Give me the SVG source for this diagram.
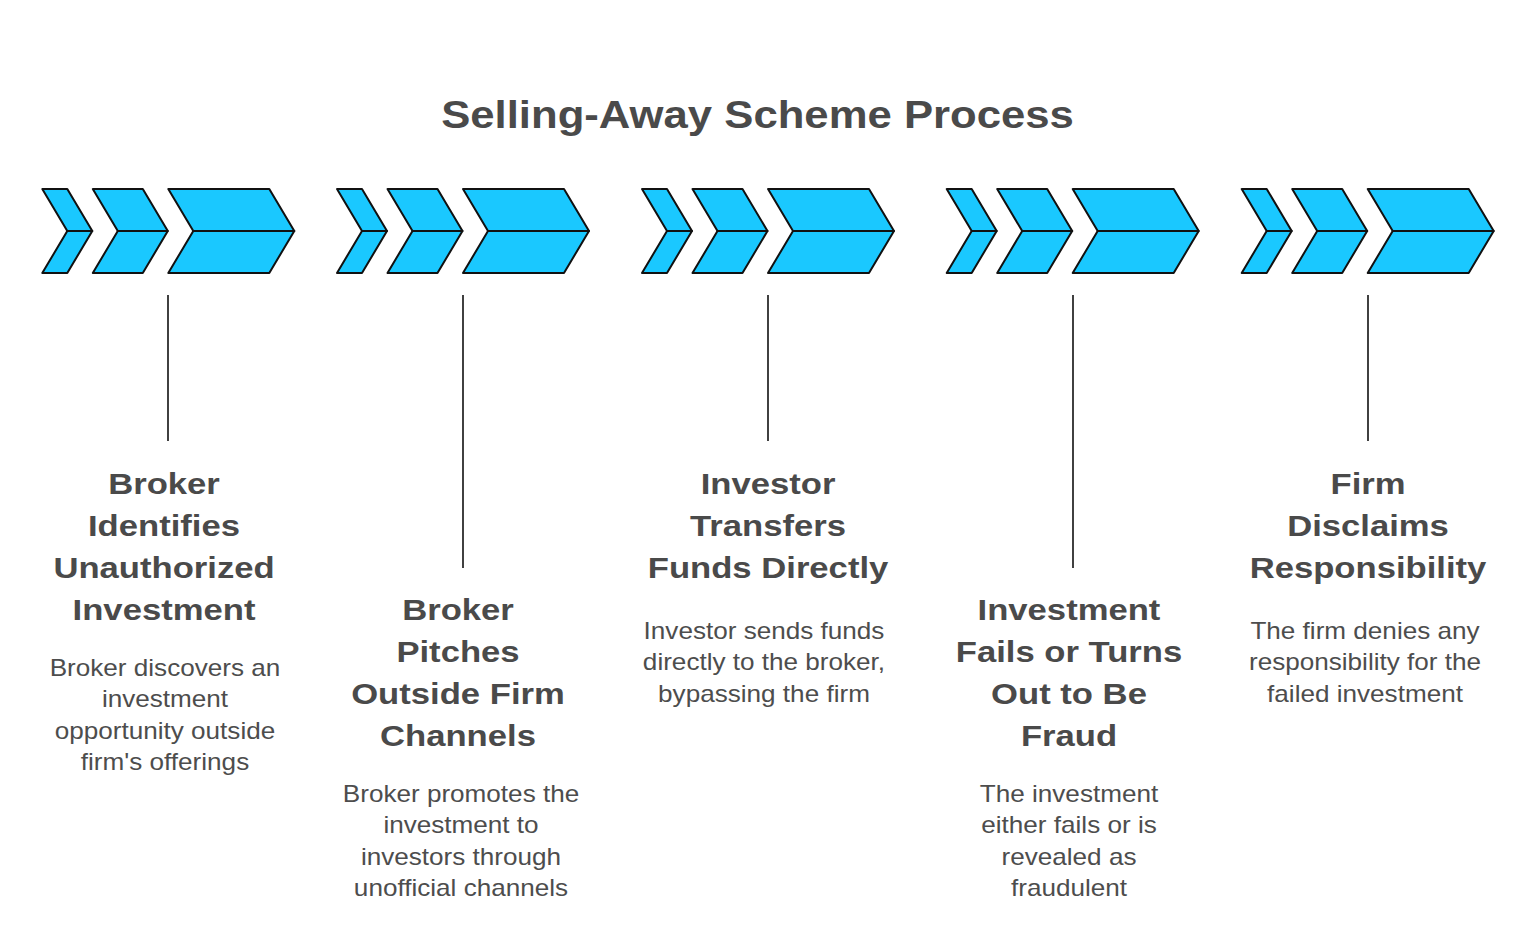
<svg xmlns="http://www.w3.org/2000/svg" xmlns:xlink="http://www.w3.org/1999/xlink" width="1536" height="926" viewBox="0 0 1536 926">
<style>
.ch{fill:#1AC8FF;stroke:#111;stroke-width:2;stroke-linejoin:round}
.t{font-family:"Liberation Sans",Arial,sans-serif;font-weight:bold;font-size:30px;fill:#4a4a4a;text-anchor:middle}
.d{font-family:"Liberation Sans",Arial,sans-serif;font-size:23px;fill:#4d4d4d;text-anchor:middle}
.h{font-family:"Liberation Sans",Arial,sans-serif;font-weight:bold;font-size:39px;fill:#4a4a4a;text-anchor:middle}
.ln{stroke:#111;stroke-width:1.6;fill:none}
</style>
<defs>
<g id="chev">
<polygon class="ch" points="0,0 25,0 50,42 25,42"/>
<polygon class="ch" points="25,42 50,42 25,84 0,84"/>
<polygon class="ch" points="50.5,0 100.5,0 125.5,42 75.5,42"/>
<polygon class="ch" points="75.5,42 125.5,42 100.5,84 50.5,84"/>
<polygon class="ch" points="126,0 227,0 252,42 151,42"/>
<polygon class="ch" points="151,42 252,42 227,84 126,84"/>
</g>
</defs>
<rect width="1536" height="926" fill="#fff"/>
<g id="title" transform="matrix(1.12 0 0 1 -90.9 0)">
<text class="h" x="757.5" y="128">Selling-Away Scheme Process</text>
</g>
<g id="connectors">
<line class="ln" x1="168" y1="295" x2="168" y2="441"/>
<line class="ln" x1="463" y1="295" x2="463" y2="568"/>
<line class="ln" x1="768" y1="295" x2="768" y2="441"/>
<line class="ln" x1="1073" y1="295" x2="1073" y2="568"/>
<line class="ln" x1="1368" y1="295" x2="1368" y2="441"/>
</g>
<g id="node1">
<use xlink:href="#chev" href="#chev" transform="translate(42.3,189)"/>
<g transform="matrix(1.155 0 0 1 -25.4 0)">
<text class="t" x="164" y="494"><tspan x="164">Broker</tspan><tspan x="164" dy="42">Identifies</tspan><tspan x="164" dy="42">Unauthorized</tspan><tspan x="164" dy="42">Investment</tspan></text>
</g>
<g transform="matrix(1.135 0 0 1 -22.275 0)">
<text class="d" x="165" y="676"><tspan x="165">Broker discovers an</tspan><tspan x="165" dy="31.3">investment</tspan><tspan x="165" dy="31.3">opportunity outside</tspan><tspan x="165" dy="31.3">firm's offerings</tspan></text>
</g>
</g>
<g id="node2">
<use xlink:href="#chev" href="#chev" transform="translate(337,189)"/>
<g transform="matrix(1.155 0 0 1 -71 0)">
<text class="t" x="458" y="620"><tspan x="458">Broker</tspan><tspan x="458" dy="42">Pitches</tspan><tspan x="458" dy="42">Outside Firm</tspan><tspan x="458" dy="42">Channels</tspan></text>
</g>
<g transform="matrix(1.135 0 0 1 -62.235 0)">
<text class="d" x="461" y="802"><tspan x="461">Broker promotes the</tspan><tspan x="461" dy="31.3">investment to</tspan><tspan x="461" dy="31.3">investors through</tspan><tspan x="461" dy="31.3">unofficial channels</tspan></text>
</g>
</g>
<g id="node3">
<use xlink:href="#chev" href="#chev" transform="translate(642,189)"/>
<g transform="matrix(1.155 0 0 1 -119 0)">
<text class="t" x="768" y="494"><tspan x="768">Investor</tspan><tspan x="768" dy="42">Transfers</tspan><tspan x="768" dy="42">Funds Directly</tspan></text>
</g>
<g transform="matrix(1.135 0 0 1 -103.14 0)">
<text class="d" x="764" y="639"><tspan x="764">Investor sends funds</tspan><tspan x="764" dy="31.3">directly to the broker,</tspan><tspan x="764" dy="31.3">bypassing the firm</tspan></text>
</g>
</g>
<g id="node4">
<use xlink:href="#chev" href="#chev" transform="translate(946.7,189)"/>
<g transform="matrix(1.155 0 0 1 -165.7 0)">
<text class="t" x="1069" y="620"><tspan x="1069">Investment</tspan><tspan x="1069" dy="42">Fails or Turns</tspan><tspan x="1069" dy="42">Out to Be</tspan><tspan x="1069" dy="42">Fraud</tspan></text>
</g>
<g transform="matrix(1.135 0 0 1 -144.315 0)">
<text class="d" x="1069" y="802"><tspan x="1069">The investment</tspan><tspan x="1069" dy="31.3">either fails or is</tspan><tspan x="1069" dy="31.3">revealed as</tspan><tspan x="1069" dy="31.3">fraudulent</tspan></text>
</g>
</g>
<g id="node5">
<use xlink:href="#chev" href="#chev" transform="translate(1241.7,189)"/>
<g transform="matrix(1.155 0 0 1 -212 0)">
<text class="t" x="1368" y="494"><tspan x="1368">Firm</tspan><tspan x="1368" dy="42">Disclaims</tspan><tspan x="1368" dy="42">Responsibility</tspan></text>
</g>
<g transform="matrix(1.135 0 0 1 -184.275 0)">
<text class="d" x="1365" y="639"><tspan x="1365">The firm denies any</tspan><tspan x="1365" dy="31.3">responsibility for the</tspan><tspan x="1365" dy="31.3">failed investment</tspan></text>
</g>
</g>
</svg>
